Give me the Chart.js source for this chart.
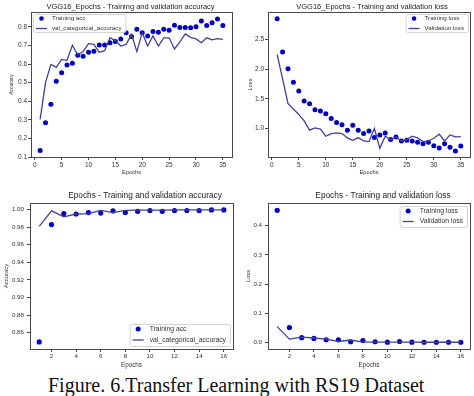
<!DOCTYPE html>
<html>
<head>
<meta charset="utf-8">
<script src="https://cdn.jsdelivr.net/npm/chart.js@4.4.1/dist/chart.umd.min.js"></script>
<style>
  body { margin: 0; background: #fff; width: 474px; height: 396px; position: relative; overflow: hidden; }
  .panel { position: absolute; }
  #caption {
    position: absolute; left: 48px; top: 375px;
    font: 20px 'Liberation Serif', 'Times New Roman', serif; line-height: 20px;
    white-space: nowrap; color: #111;
  }
</style>
</head>
<body>
<div class="panel" style="left:0;top:0;width:237px;height:178px"><canvas id="vggAcc"></canvas></div>
<div class="panel" style="left:237px;top:0;width:237px;height:178px"><canvas id="vggLoss"></canvas></div>
<div class="panel" style="left:0;top:180px;width:237px;height:190px"><canvas id="rsAcc"></canvas></div>
<div class="panel" style="left:237px;top:180px;width:237px;height:190px"><canvas id="rsLoss"></canvas></div>
<div id="caption">Figure. 6.Transfer Learning with RS19 Dataset</div>

<script>
// --- data ---
const epochs35 = [1, 2, 3, 4, 5, 6, 7, 8, 9, 10, 11, 12, 13, 14, 15, 16, 17, 18, 19, 20,
                  21, 22, 23, 24, 25, 26, 27, 28, 29, 30, 31, 32, 33, 34, 35];
const epochs16 = [1, 2, 3, 4, 5, 6, 7, 8, 9, 10, 11, 12, 13, 14, 15, 16];

// VGG16 run
const vggTrainAcc = [0.135, 0.284, 0.384, 0.507, 0.553, 0.595, 0.604, 0.647, 0.642, 0.663,
                     0.669, 0.703, 0.703, 0.715, 0.721, 0.735, 0.769, 0.748, 0.787, 0.769,
                     0.751, 0.775, 0.771, 0.787, 0.782, 0.809, 0.796, 0.796, 0.795, 0.800,
                     0.832, 0.807, 0.822, 0.843, 0.807];
const vggValAcc = [0.302, 0.500, 0.598, 0.582, 0.625, 0.620, 0.701, 0.649, 0.667, 0.710,
                   0.706, 0.663, 0.672, 0.742, 0.726, 0.697, 0.706, 0.759, 0.667, 0.769,
                   0.697, 0.751, 0.697, 0.741, 0.741, 0.681, 0.719, 0.762, 0.744, 0.735,
                   0.715, 0.741, 0.730, 0.737, 0.733];
const vggTrainLoss = [2.851, 2.290, 2.008, 1.781, 1.634, 1.464, 1.419, 1.317, 1.294, 1.249,
                      1.170, 1.102, 1.062, 0.972, 1.057, 0.972, 0.915, 0.960, 0.847, 0.892,
                      0.926, 0.813, 0.858, 0.790, 0.802, 0.790, 0.768, 0.745, 0.768, 0.711,
                      0.672, 0.745, 0.683, 0.621, 0.706];
const vggValLoss = [2.245, 1.838, 1.425, 1.328, 1.238, 1.130, 0.972, 1.011, 0.989, 0.870,
                    0.915, 0.926, 0.915, 0.842, 0.802, 0.847, 0.790, 0.779, 1.000, 0.666,
                    0.870, 0.813, 0.858, 0.790, 0.813, 0.870, 0.842, 0.779, 0.790, 0.836,
                    0.904, 0.790, 0.892, 0.858, 0.864];

// RS19 transfer learning run
const rsTrainAcc = [0.8495, 0.983, 0.9955, 0.995, 0.9966, 0.996, 0.9985, 0.9966,
                    0.998, 0.999, 0.998, 0.999, 0.999, 0.999, 0.9996, 0.9996];
const rsValAcc = [0.981, 0.9985, 0.9917, 0.995, 0.9955, 0.9992, 0.9966, 0.9992,
                  0.9995, 0.9995, 0.9995, 0.9996, 0.9996, 0.9996, 0.9997, 0.9997];
const rsTrainLoss = [0.453, 0.051, 0.016, 0.0136, 0.009, 0.009, 0.002, 0.006,
                     0.002, 0.0005, 0.003, 0.0005, 0.0004, 0.0004, 0.0003, 0.0003];
const rsValLoss = [0.054, 0.011, 0.018, 0.015, 0.011, 0.003, 0.008, 0.001,
                   0.0008, 0.0006, 0.0005, 0.0005, 0.0004, 0.0004, 0.0003, 0.0003];

// tick labels
const xTicks35 = [0, 5, 10, 15, 20, 25, 30, 35];
const xTicks16 = [2, 4, 6, 8, 10, 12, 14, 16];
const vggAccTicks = [0.1, 0.2, 0.3, 0.4, 0.5, 0.6, 0.7, 0.8];
const vggLossTicks = [1.0, 1.5, 2.0, 2.5];
const rsAccTicks = [0.86, 0.88, 0.90, 0.92, 0.94, 0.96, 0.98, 1.00];
const rsLossTicks = [0.0, 0.1, 0.2, 0.3, 0.4];

const FONT = "'Liberation Sans', Arial, sans-serif";
const DOT = '#0000c4';
const LINE = '#40409c';
const AXIS = '#4a4a4a';
const TEXT = '#333';

// matplotlib style box round the axes
const frame = {
    id: 'frame',
    afterDatasetsDraw(chart) {
        const a = chart.chartArea, ctx = chart.ctx;
        ctx.save();
        ctx.strokeStyle = AXIS;
        ctx.lineWidth = 1;
        ctx.strokeRect(Math.round(a.left) + 0.5, Math.round(a.top) + 0.5,
                       Math.round(a.right - a.left), Math.round(a.bottom - a.top));
        ctx.restore();
    }
};

// heading placed freely (the bottom titles sit right of centre)
const heading = {
    id: 'heading',
    afterDraw(chart, args, o) {
        const ctx = chart.ctx;
        ctx.save();
        ctx.font = o.size + 'px ' + FONT;
        ctx.fillStyle = '#222';
        ctx.textAlign = 'center';
        ctx.textBaseline = 'middle';
        ctx.fillText(o.text, o.cx, o.cy);
        ctx.restore();
    }
};

// legend drawn inside the axes like matplotlib
const insideLegend = {
    id: 'insideLegend',
    afterDraw(chart, args, o) {
        const {ctx, chartArea: a} = chart;
        const ds = chart.data.datasets;
        ctx.save();
        ctx.font = o.size + 'px ' + FONT;
        const tw = Math.max(...ds.map(d => ctx.measureText(d.label).width));
        const w = o.textX + tw + 4, h = o.h;
        const x = o.corner[1] === 'l' ? a.left + o.inset : a.right - o.inset - w;
        const y = o.corner[0] === 'u' ? a.top + o.inset : a.bottom - o.inset - h;
        ctx.fillStyle = 'rgba(255,255,255,0.85)';
        ctx.strokeStyle = '#d4d4d4';
        ctx.beginPath();
        ctx.roundRect(x + 0.5, y + 0.5, w, h, 2);
        ctx.fill();
        ctx.stroke();
        ds.forEach((d, i) => {
            const cy = y + o.first + o.rowH * i;
            if (d.showLine) {
                ctx.strokeStyle = LINE;
                ctx.lineWidth = 1.3;
                ctx.beginPath();
                ctx.moveTo(x + 3, cy);
                ctx.lineTo(x + 14, cy);
                ctx.stroke();
            } else {
                ctx.fillStyle = DOT;
                ctx.beginPath();
                ctx.arc(x + 8.5, cy, o.dot, 0, Math.PI * 2);
                ctx.fill();
            }
            ctx.fillStyle = TEXT;
            ctx.textBaseline = 'middle';
            ctx.fillText(d.label, x + o.textX, cy);
        });
        ctx.restore();
    }
};

function makeChart(id, c) {
    const pts = (xs, ys) => xs.map((x, i) => ({x: x, y: ys[i]}));
    return new Chart(document.getElementById(id), {
        type: 'scatter',
        data: {
            datasets: [{
                label: c.labels[0],
                data: pts(c.x, c.train),
                showLine: false,
                pointRadius: c.dot,
                pointBackgroundColor: DOT,
                pointBorderWidth: 0,
                order: 2
            }, {
                label: c.labels[1],
                data: pts(c.x, c.val),
                showLine: true,
                pointRadius: 0,
                borderColor: LINE,
                borderWidth: 1.3,
                order: 1
            }]
        },
        options: {
            responsive: true,
            maintainAspectRatio: false,
            animation: false,
            events: [],
            layout: { padding: { top: c.top, right: c.right, left: 0, bottom: 0 } },
            plugins: {
                legend: { display: false },
                tooltip: { enabled: false },
                heading: c.heading,
                insideLegend: c.legend
            },
            scales: {
                x: {
                    type: 'linear',
                    min: c.xMin, max: c.xMax,
                    afterBuildTicks: s => { s.ticks = c.xTicks.map(v => ({value: v})); },
                    afterFit: s => { s.height = c.xH; },
                    grid: { drawOnChartArea: false, tickLength: 3, color: AXIS },
                    border: { color: AXIS },
                    ticks: { font: { family: FONT, size: c.tickSize }, color: TEXT, padding: 1,
                             maxRotation: 0, autoSkip: false },
                    title: { display: true, text: 'Epochs', color: TEXT,
                             font: { family: FONT, size: c.xTitleSize },
                             padding: { top: 0, bottom: c.xTitlePad } }
                },
                y: {
                    min: c.yMin, max: c.yMax,
                    afterBuildTicks: s => { s.ticks = c.yTicks.map(v => ({value: v})); },
                    afterFit: s => { s.width = c.yW; },
                    grid: { drawOnChartArea: false, tickLength: 3, color: AXIS },
                    border: { color: AXIS },
                    ticks: { font: { family: FONT, size: c.tickSize }, color: TEXT, padding: c.yTickPad,
                             autoSkip: false, callback: v => v.toFixed(c.yDec) },
                    title: { display: true, text: c.yTitle, color: TEXT,
                             font: { family: FONT, size: c.yTitleSize },
                             padding: { top: c.yTitlePad, bottom: 0 } }
                }
            }
        },
        plugins: [frame, heading, insideLegend]
    });
}

makeChart('vggAcc', {
    x: epochs35, train: vggTrainAcc, val: vggValAcc,
    labels: ['Training acc', 'val_categorical_accuracy'],
    xMin: -0.7, xMax: 36.7, yMin: 0.1, yMax: 0.88, xTicks: xTicks35, yTicks: vggAccTicks, yDec: 1,
    top: 12, right: 5, yW: 31, xH: 21, dot: 2.5, tickSize: 6.5, yTickPad: 1,
    xTitleSize: 5.7, xTitlePad: 2.6, yTitle: 'Accuracy', yTitleSize: 5, yTitlePad: 9,
    heading: { text: 'VGG16_Epochs - Training and validation accuracy', cx: 130.5, cy: 7, size: 7.5 },
    legend: { corner: 'ul', inset: 2, size: 6.2, textX: 19, h: 18, first: 4.5, rowH: 10, dot: 2.3 }
});

makeChart('vggLoss', {
    x: epochs35, train: vggTrainLoss, val: vggValLoss,
    labels: ['Training loss', 'Validation loss'],
    xMin: -0.7, xMax: 36.7, yMin: 0.52, yMax: 2.965, xTicks: xTicks35, yTicks: vggLossTicks, yDec: 1,
    top: 12, right: 4, yW: 31, xH: 21, dot: 2.5, tickSize: 6.5, yTickPad: 1,
    xTitleSize: 5.7, xTitlePad: 2.6, yTitle: 'Loss', yTitleSize: 5.7, yTitlePad: 9.6,
    heading: { text: 'VGG16_Epochs - Training and validation loss', cx: 135, cy: 7, size: 7.5 },
    legend: { corner: 'ur', inset: 2, size: 6.2, textX: 19, h: 18, first: 4.5, rowH: 10, dot: 2.3 }
});

makeChart('rsAcc', {
    x: epochs16, train: rsTrainAcc, val: rsValAcc,
    labels: ['Training acc', 'val_categorical_accuracy'],
    xMin: 0.25, xMax: 16.75, yMin: 0.8415, yMax: 1.0075, xTicks: xTicks16, yTicks: rsAccTicks, yDec: 2,
    top: 23, right: 4, yW: 30, xH: 21, dot: 2.6, tickSize: 6.2, yTickPad: 3,
    xTitleSize: 6.3, xTitlePad: 1.2, yTitle: 'Accuracy', yTitleSize: 6, yTitlePad: 2.4,
    heading: { text: 'Epochs - Training and validation accuracy', cx: 145, cy: 16, size: 8.3 },
    legend: { corner: 'lr', inset: 3, size: 6.8, textX: 20, h: 22, first: 5, rowH: 11, dot: 2.5 }
});

makeChart('rsLoss', {
    x: epochs16, train: rsTrainLoss, val: rsValLoss,
    labels: ['Training loss', 'Validation loss'],
    xMin: 0.25, xMax: 16.75, yMin: -0.0228, yMax: 0.478, xTicks: xTicks16, yTicks: rsLossTicks, yDec: 1,
    top: 23, right: 4, yW: 31, xH: 21, dot: 2.6, tickSize: 6.2, yTickPad: 3,
    xTitleSize: 6.3, xTitlePad: 1.2, yTitle: 'Loss', yTitleSize: 6, yTitlePad: 7.4,
    heading: { text: 'Epochs - Training and validation loss', cx: 146, cy: 16, size: 8.3 },
    legend: { corner: 'ur', inset: 3, size: 6.8, textX: 20, h: 21, first: 5, rowH: 10.5, dot: 2.5 }
});
</script>
</body>
</html>
